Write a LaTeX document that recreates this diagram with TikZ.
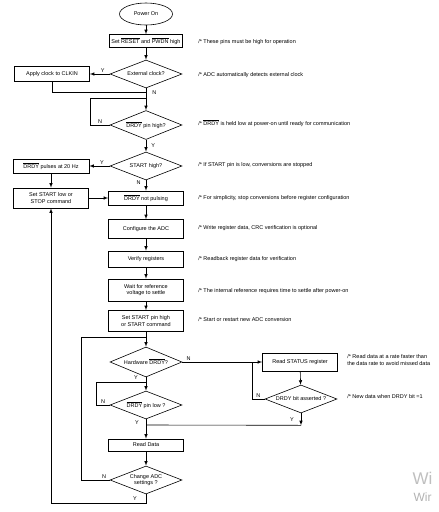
\documentclass[tikz,border=0pt]{standalone}
\usepackage{fontspec}
\setmainfont{Liberation Sans}
\usetikzlibrary{shapes.geometric}

\newcommand{\ovl}[1]{$\overline{\mbox{#1}}$}

\tikzset{
  block/.style={draw, minimum width=75pt, minimum height=14pt, inner sep=1pt, align=center},
  decision/.style={draw, diamond, aspect=2.5, minimum width=72pt, minimum height=28pt, inner sep=0pt, align=center},
  term/.style={draw, ellipse, minimum width=53pt, minimum height=22pt},
  note/.style={anchor=west, inner sep=0pt, align=left},
  yn/.style={inner sep=1pt},
}

\begin{document}
\begin{tikzpicture}[x=1pt, y=-1pt, line width=0.6pt, >=latex, font=\fontsize{5.5}{6.5}\selectfont]
	\useasboundingbox (0,0) rectangle (439,512);

	% main column
	\node[term] (pwr) at (146,14) {Power On};
	\node[block, minimum height=13pt, minimum width=73pt] (reset) at (146,41) {Set \ovl{RESET} and \ovl{PWDN} high};
	\node[decision] (extclk) at (146,74) {External clock?};
	\node[block, minimum height=15pt] (clkin) at (52,74) {Apply clock to CLKIN};
	\node[decision, minimum height=29pt] (drdyhi) at (146,125) {\ovl{DRDY} pin high?};
	\node[decision] (starthi) at (146,166) {START high?};
	\node[block, minimum width=76pt] (pulse) at (51,166) {\ovl{DRDY} pulses at 20 Hz};
	\node[block, minimum height=20pt] (stop) at (51,198) {Set START low or\\STOP command};
	\node[block] (notpulse) at (146,198) {\ovl{DRDY} not pulsing};
	\node[block, minimum height=19pt] (config) at (146,229) {Configure the ADC};
	\node[block, minimum height=16pt] (verify) at (146,259) {Verify registers};
	\node[block, minimum height=22pt] (wait) at (146,290) {Wait for reference\\voltage to settle};
	\node[block, minimum height=21pt] (start) at (146,321) {Set START pin high\\or START command};
	\node[decision, minimum height=30pt] (hwdrdy) at (146,362) {Hardware \ovl{DRDY}?};
	\node[decision] (drdylo) at (146,405) {\ovl{DRDY} pin low ?};
	\node[block, minimum height=12pt] (read) at (146,445) {Read Data};
	\node[decision] (change) at (146,480) {Change ADC\\settings ?};
	% status polling branch
	\node[block, minimum height=18pt] (status) at (300,362) {Read STATUS register};
	\node[decision] (bitset) at (301,399) {DRDY bit asserted ?};

	\coordinate (j1) at (146,92);
	\coordinate (j2) at (146,98);
	\coordinate (j3) at (146,337);
	\coordinate (j4) at (146,382);
	\coordinate (j5) at (252,362);
	\coordinate (j6) at (146,425);

	\draw[->] (pwr) -- (reset);
	\draw[->] (reset) -- (extclk);
	\draw[->] (extclk) -- node[yn, above, pos=0.35]{Y} (clkin);
	\draw (clkin.south) |- (j1);
	\draw[->] (extclk) -- node[yn, right=5pt, pos=0.2]{N} (drdyhi);
	\draw (drdyhi.west) -- node[yn, above]{N} ++(-19,0) |- (j2);
	\draw[->] (drdyhi) -- node[yn, right=4pt]{Y} (starthi);
	\draw[->] (starthi) -- node[yn, above, pos=0.38]{Y} (pulse);
	\draw[->] (pulse) -- (stop);
	\draw[->] (starthi) -- node[yn, left=4pt, pos=0.2]{N} (notpulse);
	\draw[->] (stop) -- (notpulse);
	\draw[->] (notpulse) -- (config);
	\draw[->] (config) -- (verify);
	\draw[->] (verify) -- (wait);
	\draw[->] (wait) -- (start);
	\draw[->] (start) -- (hwdrdy);
	\draw[->] (hwdrdy) -- node[yn, above, pos=0.08]{N} (status);
	\draw[->] (status) -- (bitset);
	\draw (bitset.west) -| node[yn, above, pos=0.25]{N} (j5);
	\draw[->] (bitset.south) -- node[yn, left=6pt]{Y} ++(0,12) coordinate (j7);
	\draw (j7) -- (j6);
	\draw[->] (hwdrdy) -- node[yn, left=7pt, pos=0.05]{Y} (drdylo);
	\draw (drdylo.west) -- node[yn, above]{N} ++(-13,0) |- (j4);
	\draw[->] (drdylo) -- node[yn, left=6pt, pos=0.15]{Y} (read);
	\draw[->] (read) -- (change);
	\draw (change.west) -- node[yn, above, pos=0.2]{N} ++(-28,0) |- (j3);
	\draw[->] (change.south) -- node[yn, left=8pt]{Y} ++(0,9) -| (stop.south);

	% comments
	\node[note] (c1) at (198,42) {/* These pins must be high for operation};
	\node[note] (c2) at (198,75) {/* ADC automatically detects external clock};
	\node[note] (c3) at (198,123) {/* \ovl{DRDY} is held low at power-on until ready for communication};
	\node[note] (c4) at (198,165) {/* If START pin is low, conversions are stopped};
	\node[note] (c5) at (198,198) {/* For simplicity, stop conversions before register configuration};
	\node[note] (c6) at (198,228) {/* Write register data, CRC verification is optional};
	\node[note] (c7) at (198,259) {/* Readback register data for verification};
	\node[note] (c8) at (198,291) {/* The internal reference requires time to settle after power-on};
	\node[note] (c9) at (198,320) {/* Start or restart new ADC conversion};
	\node[note] (c10) at (347,360) {/* Read data at a rate faster than\\the data rate to avoid missed data};
	\node[note] (c11) at (347,397) {/* New data when DRDY bit =1};

	\node[anchor=west, text=black!25, font=\fontsize{17}{17}\selectfont] (wm1) at (409,478) {Wi};
	\node[anchor=west, text=black!30, font=\fontsize{12}{12}\selectfont] (wm2) at (410,497) {Wir};
\end{tikzpicture}
\end{document}
